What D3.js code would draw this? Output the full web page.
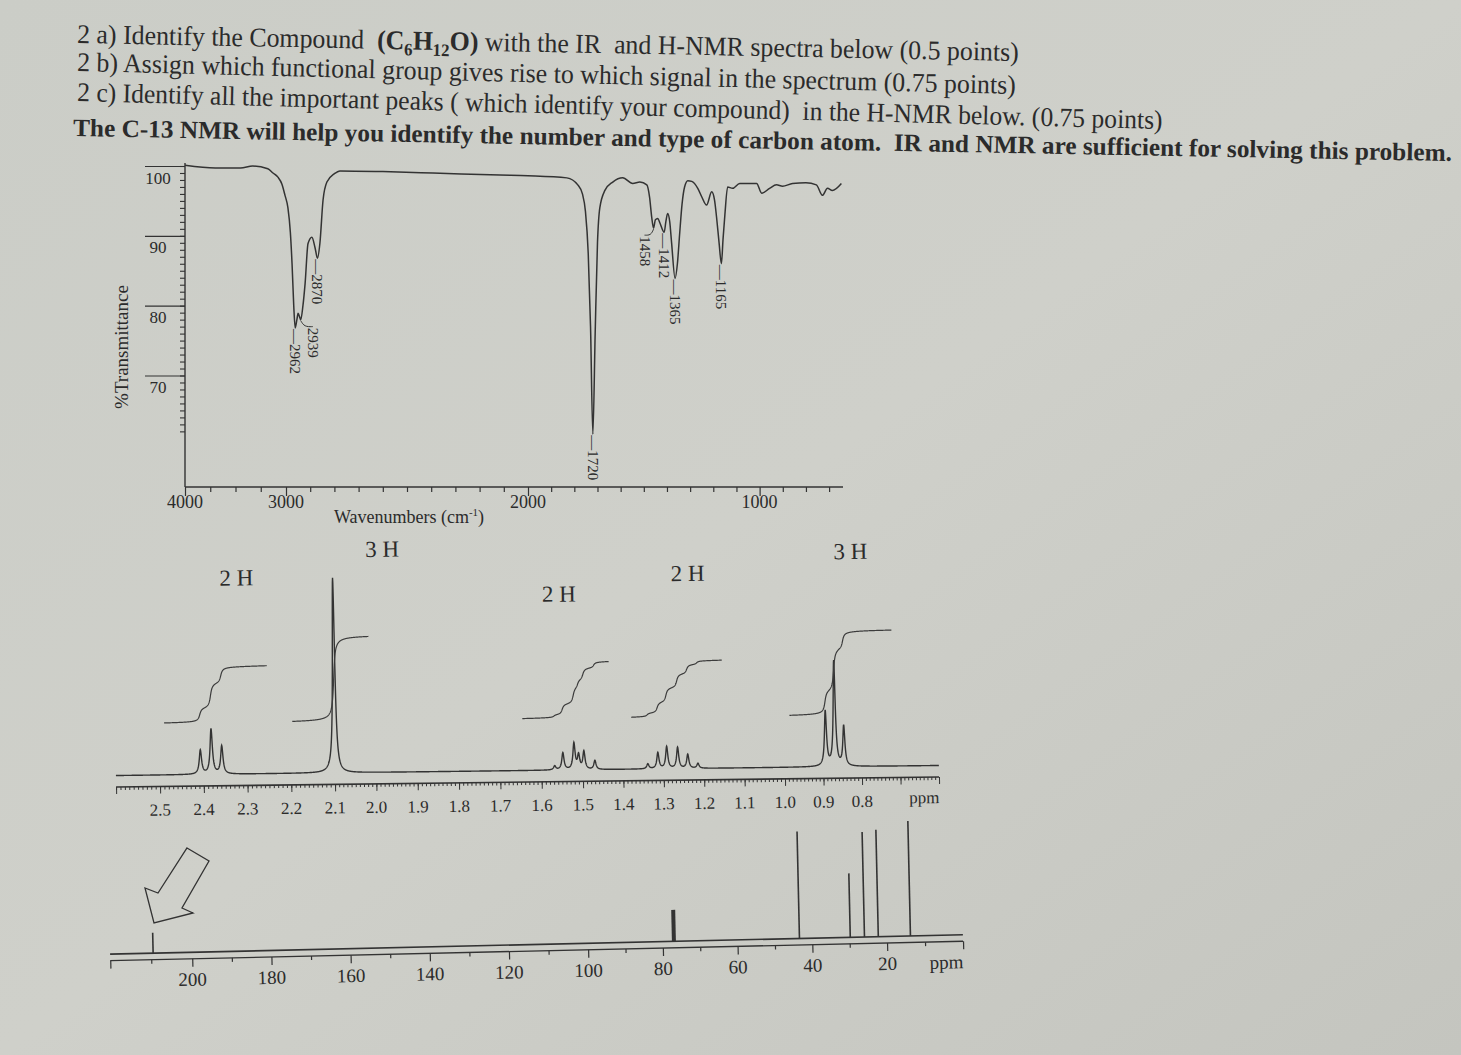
<!DOCTYPE html>
<html><head><meta charset="utf-8">
<script src="https://cdn.jsdelivr.net/npm/d3@7"></script>
<style>html,body{margin:0;padding:0;background:#cacbc5;}svg{display:block}</style>
</head><body>
<svg id="c" width="1461" height="1055"></svg>
<script>
// ---------------- DATA ----------------
// IR spectrum: [wavenumber (cm-1), %Transmittance]
const irSpectrum = [
 [4000,100.1],[3700,99.7],[3450,99.7],[3330,100.0],[3180,99.6],[3129,99.0],[3080,98.4],[3040,97.4],
 [3010,95.8],[2992,94.0],[2982,90.5],[2975,86.0],[2968,80.0],[2962,76.8],[2955,78.0],[2950,78.9],
 [2939,78.0],[2930,80.0],[2921,83.2],[2909,88.9],[2893,89.8],[2880,88.3],[2870,86.8],[2860,88.9],
 [2847,95.1],[2831,97.7],[2800,98.9],[2777,99.3],[2600,99.2],[2393,99.0],[2116,98.7],[2000,98.6],
 [1832,98.3],[1785,97.3],[1765,96.0],[1752,93.5],[1740,87.5],[1730,77.0],[1720,61.6],[1710,76.0],
 [1700,89.0],[1690,94.0],[1668,96.5],[1634,97.7],[1591,98.3],[1548,97.5],[1517,97.7],[1487,97.3],
 [1475,95.5],[1466,92.7],[1458,91.1],[1450,92.3],[1440,92.5],[1430,91.8],[1412,90.5],[1405,92.0],
 [1397,93.2],[1388,92.0],[1380,89.0],[1365,83.9],[1355,86.0],[1345,90.4],[1335,94.5],[1324,97.0],
 [1310,97.9],[1293,97.8],[1267,96.8],[1250,95.6],[1229,94.4],[1207,96.3],[1195,95.2],[1186,92.7],
 [1175,89.0],[1165,86.0],[1158,89.5],[1150,93.0],[1138,97.0],[1117,96.8],[1086,97.5],[1013,97.5],
 [991,96.1],[957,96.8],[927,97.3],[901,97.1],[858,97.5],[800,97.6],[755,97.3],[729,95.8],
 [707,96.8],[686,96.5],[647,97.5]
];
const irPeakWn = [2962, 2939, 2870, 1720, 1458, 1412, 1365, 1165];
const irPeakT  = [76.8, 78.0, 86.8, 61.6, 91.1, 90.5, 83.9, 86.0];
const irXTicks = [4000, 3000, 2000, 1000];
const irYTicks = [100, 90, 80, 70];

// 1H NMR peaks (ppm, relative height)
const hPeakPpm    = [2.407,2.382,2.358, 2.100, 1.568,1.548,1.521,1.510,1.497,1.470, 1.339,1.314,1.292,1.265,1.240,1.215, 0.8935,0.870,0.846];
const hPeakHeight = [12,22.5,14, 97.5, 2,8.5,13,7,9,4.5, 2.5,8,11,10.5,7,2.5, 27.5,52.5,20];
// integrals
const hIntFrom = [2.489, 2.196, 1.645, 1.379, 0.987];
const hIntTo   = [2.253, 2.015, 1.433, 1.153, 0.719];
const hIntH    = [2, 3, 2, 2, 3];
const hLabelPpm = [2.32, 1.979, 1.553, 1.235, 0.823];
const hTicks = [2.5,2.4,2.3,2.2,2.1,2.0,1.9,1.8,1.7,1.6,1.5,1.4,1.3,1.2,1.1,1.0,0.9,0.8];

// 13C NMR peaks
const cPeakPpm    = [209.5, 77.0, 43.4, 29.8, 26.0, 22.3, 13.8];
const cPeakHeight = [20.5, 31.5, 107, 64, 105, 107, 115];
const cTicks = [200,180,160,140,120,100,80,60,40,20];

// ---------------- DRAW ----------------
const svg = d3.select("#c");
const serif = "'Liberation Serif','Times New Roman',serif";
const ink = "#2b2b2b", line = "#333";

const defs = svg.append("defs");
const lg = defs.append("linearGradient").attr("id","bg").attr("x1",0).attr("y1",0).attr("x2",1).attr("y2",1);
lg.append("stop").attr("offset",0).attr("stop-color","#cbcdc7");
lg.append("stop").attr("offset",0.5).attr("stop-color","#cfd0ca");
lg.append("stop").attr("offset",1).attr("stop-color","#c4c5bf");
svg.append("rect").attr("width",1461).attr("height",1055).attr("fill","url(#bg)");

// ---- heading lines ----
const topLines = [
 {x0:77,y0:43,x1:1019,y1:61,size:27,parts:[["2 a) Identify the Compound  ",0,0],["(C",1,0],["6",1,1],["H",1,0],["12",1,1],["O)",1,0],[" with the IR  and H-NMR spectra below (0.5 points)",0,0]]},
 {x0:77,y0:71,x1:1016,y1:94,size:27,parts:[["2 b) Assign which functional group gives rise to which signal in the spectrum (0.75 points)",0,0]]},
 {x0:77,y0:101,x1:1163,y1:129,size:27,parts:[["2 c) Identify all the important peaks ( which identify your compound)  in the H-NMR below. (0.75 points)",0,0]]},
 {x0:73,y0:136,x1:1453,y1:161,size:25,parts:[["The C-13 NMR will help you identify the number and type of carbon atom.  IR and NMR are sufficient for solving this problem.",1,0]]}
];
topLines.forEach(L=>{
  const t = svg.append("text").attr("x",L.x0).attr("y",L.y0).style("white-space","pre")
    .attr("font-family",serif).attr("font-size",L.size).attr("fill",ink);
  let shift = 0;
  L.parts.forEach(([s,b,sub])=>{
    const ts = t.append("tspan").text(s).attr("font-weight",b?"bold":"normal");
    const target = sub?6:0;
    if(target!==shift){ts.attr("dy",target-shift); shift=target;}
    if(sub) ts.attr("font-size",L.size*0.65);
  });
  const w = t.node().getBBox().width;
  const len = Math.hypot(L.x1-L.x0, L.y1-L.y0);
  const ang = Math.atan2(L.y1-L.y0, L.x1-L.x0)*180/Math.PI;
  t.attr("transform",`rotate(${ang},${L.x0},${L.y0}) translate(${L.x0},${L.y0}) scale(${len/w},1) translate(${-L.x0},${-L.y0})`);
});

// ---- IR spectrum ----
const irX = d3.scaleLinear().domain([4000,3000,2000,640]).range([185,286,528,843]);
const irY = d3.scaleLinear().domain([100,70]).range([166,375.5]);
const irBottom = 487;
const gIR = svg.append("g");

// y axis
gIR.append("line").attr("x1",185).attr("x2",185).attr("y1",163).attr("y2",irBottom).attr("stroke",line).attr("stroke-width",1.4);
const yMinor = gIR.append("g").attr("transform","translate(185,0)")
  .call(d3.axisLeft(irY).tickValues(d3.range(62,101)).tickSize(5).tickFormat(""));
const yMajor = gIR.append("g").attr("transform","translate(185,0)")
  .call(d3.axisLeft(irY).tickValues(irYTicks).tickSize(40).tickFormat(""));
[yMinor,yMajor].forEach(g=>{g.select(".domain").remove(); g.selectAll("line").attr("stroke",line).attr("stroke-width",1.1);});
gIR.selectAll(".ylab").data(irYTicks).join("text")
  .attr("x",158).attr("y",d=>irY(d)+17.5).attr("text-anchor","middle")
  .attr("font-family",serif).attr("font-size",17).attr("fill",ink).text(d=>d);
gIR.append("text").attr("transform","translate(128,347) rotate(-90)").attr("text-anchor","middle")
  .attr("font-family",serif).attr("font-size",19).attr("fill",ink).text("%Transmittance");

// x axis
gIR.append("line").attr("x1",185).attr("x2",843).attr("y1",irBottom).attr("y2",irBottom).attr("stroke",line).attr("stroke-width",1.4);
const xMinorVals = [3750,3500,3250].concat(d3.range(2900,2000,-100)).concat(d3.range(1900,650,-100)).filter(v=>v!==1000);
const xMinor = gIR.append("g").attr("transform",`translate(0,${irBottom})`)
  .call(d3.axisBottom(irX).tickValues(xMinorVals).tickSize(5).tickFormat(""));
const xMajor = gIR.append("g").attr("transform",`translate(0,${irBottom})`)
  .call(d3.axisBottom(irX).tickValues(irXTicks).tickSize(9).tickFormat(""));
[xMinor,xMajor].forEach(g=>{g.select(".domain").remove(); g.selectAll("line").attr("stroke",line).attr("stroke-width",1.2);});
gIR.selectAll(".xlab").data(irXTicks).join("text")
  .attr("x",d=>irX(d)).attr("y",irBottom+21).attr("text-anchor","middle")
  .attr("font-family",serif).attr("font-size",18).attr("fill",ink).text(d=>d);
const wl = gIR.append("text").attr("x",409).attr("y",523).attr("text-anchor","middle")
  .attr("font-family",serif).attr("font-size",18).attr("fill",ink);
wl.append("tspan").text("Wavenumbers (cm");
wl.append("tspan").attr("dy",-7).attr("font-size",11).text("-1");
wl.append("tspan").attr("dy",7).text(")");

// curve
gIR.append("path").datum(irSpectrum)
  .attr("d", d3.line().x(d=>irX(d[0])).y(d=>irY(d[1])).curve(d3.curveMonotoneX))
  .attr("fill","none").attr("stroke",line).attr("stroke-width",1.5);

// peak labels
const irLabelStyle = {2939:{dx:12,dy:8,lead:true}, 1458:{dx:-9,dy:8,lead:true}};
irPeakWn.forEach((wn,i)=>{
  const px = irX(wn), py = irY(irPeakT[i]);
  const st = irLabelStyle[wn] || {dx:0,dy:1,lead:false};
  const lx = px+st.dx, ly = py+st.dy;
  if(st.lead){
    gIR.append("path").attr("d", d3.line().curve(d3.curveBasis)([[px,py+1],[px+(st.dx*0.3),py+st.dy*0.9],[lx,ly-1]]))
      .attr("fill","none").attr("stroke",line).attr("stroke-width",1);
  }
  gIR.append("text").attr("transform",`translate(${lx},${ly}) rotate(90)`)
    .attr("dominant-baseline","central").attr("font-family",serif).attr("font-size",15).attr("fill",ink)
    .text((st.lead?"":"\u2014")+wn);
});

// ---- 1H NMR ----
const gH = svg.append("g").attr("transform","rotate(-0.7,530,780)");
const xH = d3.scaleLinear().domain([2.6,2.5,2.1,1.5,1.0,0.8,0.6]).range([116,160,335,583,785,862,939]);
const yH = d3.scaleLinear().domain([0,100]).range([770.5,570.5]);
const hAxisY = 782;
const W = 0.0032;
const spec = ppm => d3.sum(hPeakPpm, (p,i)=> hPeakHeight[i]/(1+((ppm-p)/W)**2));
const grid = d3.range(0,4001).map(i=>2.6-i*0.0005);
const samples = grid.concat(hPeakPpm).sort((a,b)=>b-a);
gH.append("path").attr("d", d3.line().x(p=>xH(p)).y(p=>yH(spec(p)))(samples))
  .attr("fill","none").attr("stroke",line).attr("stroke-width",1.4);

// integrals
const hLabelY = [582,555,602,583,563];
hIntFrom.forEach((f,i)=>{
  const pts = grid.filter(p=>p<=f && p>=hIntTo[i]);
  let cum=0; const c = pts.map(p=>{cum+=spec(p); return cum;});
  const d = pts.map((p,j)=>[xH(p), yH(26 + c[j]/cum*hIntH[i]*14)]);
  gH.append("path").attr("d", d3.line()(d)).attr("fill","none").attr("stroke","#3c3c3c").attr("stroke-width",1.2);
  gH.append("text").attr("x",xH(hLabelPpm[i])).attr("y",hLabelY[i]).attr("text-anchor","middle")
    .attr("font-family",serif).attr("font-size",23).attr("fill",ink).text(`${hIntH[i]} H`);
});

// axis
gH.append("line").attr("x1",116).attr("x2",939).attr("y1",hAxisY).attr("y2",hAxisY).attr("stroke",line).attr("stroke-width",1.6);
const hMinor = gH.append("g").attr("transform",`translate(0,${hAxisY})`)
  .call(d3.axisBottom(xH).tickValues(d3.range(0,201).map(i=>+(0.6+i*0.01).toFixed(2))).tickSize(3).tickFormat(""));
const hMajor = gH.append("g").attr("transform",`translate(0,${hAxisY})`)
  .call(d3.axisBottom(xH).tickValues(d3.range(6,27).map(i=>i/10)).tickSize(7).tickFormat(""));
[hMinor,hMajor].forEach(g=>{g.select(".domain").remove(); g.selectAll("line").attr("stroke",line).attr("stroke-width",1);});
gH.selectAll(".hlab").data(hTicks).join("text")
  .attr("x",d=>xH(d)).attr("y",811).attr("text-anchor","middle")
  .attr("font-family",serif).attr("font-size",17).attr("fill",ink).text(d=>d.toFixed(1));
gH.append("text").attr("x",924).attr("y",808).attr("text-anchor","middle")
  .attr("font-family",serif).attr("font-size",17).attr("fill",ink).text("ppm");

// ---- 13C NMR ----
const gC = svg.append("g").attr("transform","rotate(-1.3,535,945)");
const xC = d3.scaleLinear().domain([220,200,100,20,0]).range([110,192,588,887,963]);
const yC = d3.scaleLinear().domain([0,120]).range([944.5,824.5]);
const cAxisY = 951;
gC.append("line").attr("x1",110).attr("x2",963).attr("y1",yC(0)).attr("y2",yC(0)).attr("stroke",line).attr("stroke-width",1.6);
gC.selectAll(".cpk").data(cPeakPpm).join("line")
  .attr("x1",d=>xC(d)).attr("x2",d=>xC(d)).attr("y1",yC(0)).attr("y2",(d,i)=>yC(cPeakHeight[i]))
  .attr("stroke",line).attr("stroke-width",(d,i)=>d===77.0?4:1.6);
gC.append("line").attr("x1",110).attr("x2",963).attr("y1",cAxisY).attr("y2",cAxisY).attr("stroke",line).attr("stroke-width",1.4);
const cMinor = gC.append("g").attr("transform",`translate(0,${cAxisY})`)
  .call(d3.axisBottom(xC).tickValues(d3.range(10,220,20)).tickSize(4).tickFormat(""));
const cMajor = gC.append("g").attr("transform",`translate(0,${cAxisY})`)
  .call(d3.axisBottom(xC).tickValues(cTicks.concat([220,0])).tickSize(8).tickFormat(""));
[cMinor,cMajor].forEach(g=>{g.select(".domain").remove(); g.selectAll("line").attr("stroke",line).attr("stroke-width",1.2);});
gC.selectAll(".clab").data(cTicks).join("text")
  .attr("x",d=>xC(d)).attr("y",978).attr("text-anchor","middle")
  .attr("font-family",serif).attr("font-size",19).attr("fill",ink).text(d=>d);
gC.append("text").attr("x",946).attr("y",978).attr("text-anchor","middle")
  .attr("font-family",serif).attr("font-size",19).attr("fill",ink).text("ppm");

// outline arrow annotation pointing at the carbonyl peak
const arrowPts = [[187,848],[209,861],[182,908],[193,913],[154,923],[145,888],[158,893]];
svg.append("path").attr("d", d3.line()(arrowPts)+"Z").attr("fill","none").attr("stroke",line).attr("stroke-width",1.3);
</script>
</body></html>
